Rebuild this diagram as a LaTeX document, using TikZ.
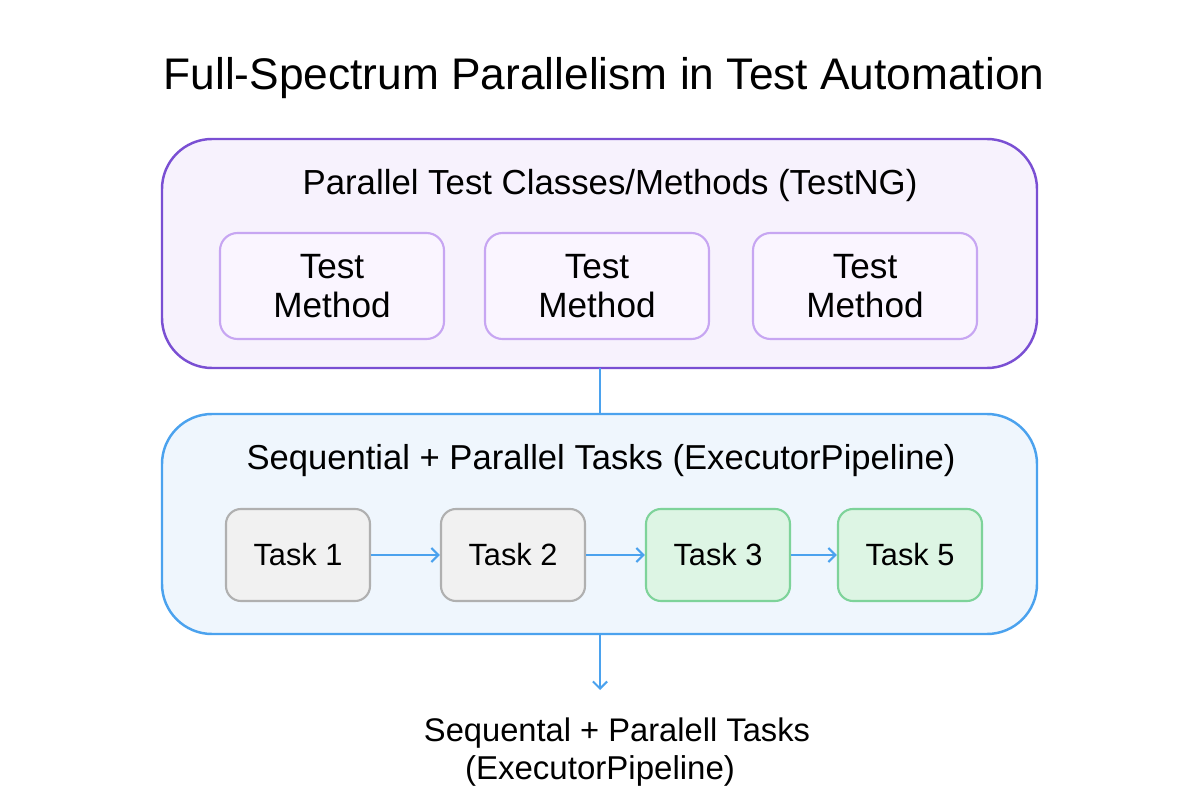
\documentclass[tikz,border=0pt]{standalone}
\usepackage{fontspec}
\setmainfont{Liberation Sans}
\usetikzlibrary{positioning,arrows.meta}

\definecolor{purpleline}{HTML}{7A4FD3}
\definecolor{purplefill}{HTML}{F7F2FD}
\definecolor{methodline}{HTML}{C7A6F2}
\definecolor{methodfill}{HTML}{FAF5FF}
\definecolor{blueline}{HTML}{4BA2EE}
\definecolor{bluefill}{HTML}{EFF6FD}
\definecolor{grayline}{HTML}{B0B0B0}
\definecolor{grayfill}{HTML}{F1F1F1}
\definecolor{greenline}{HTML}{7ED39A}
\definecolor{greenfill}{HTML}{DDF5E4}

\tikzset{
  group/.style={draw, line width=1.4pt, rounded corners=50*0.02cm},
  method/.style={draw=methodline, fill=methodfill, line width=1.2pt, rounded corners=0.35cm,
    minimum width=224*0.02cm, minimum height=106*0.02cm, align=center,
    font=\fontsize{20}{22}\selectfont},
  task/.style={draw, line width=1.2pt, rounded corners=0.3cm,
    minimum width=144*0.02cm, minimum height=92*0.02cm,
    font=\fontsize{17.5}{20}\selectfont},
  link/.style={draw=blueline, line width=1.2pt, -{Straight Barb[length=4pt,width=8pt]}}
}

\begin{document}
\begin{tikzpicture}[x=0.02cm, y=-0.02cm]

% canvas
	\useasboundingbox (0,0) rectangle (1200,800);

% title
	\node (title) at (604,78) {\fontsize{25.2}{28}\selectfont Full-Spectrum Parallelism in Test Automation};

% TestNG group
	\draw[group, draw=purpleline, fill=purplefill] (162,139) rectangle (1037,368);
	\node (testng) at (610,186) {\fontsize{19.8}{22}\selectfont Parallel Test Classes/Methods (TestNG)};
	\node[method] (m1) at (332,286) {Test\\Method};
	\node[method] (m2) at (597,286) {Test\\Method};
	\node[method] (m3) at (865,286) {Test\\Method};

% pipeline group
	\draw[group, draw=blueline, fill=bluefill] (162,414) rectangle (1037,634);
	\node (pipe) at (601,461) {\fontsize{19.7}{22}\selectfont Sequential + Parallel Tasks (ExecutorPipeline)};
	\coordinate (gtop) at (600,368);
	\coordinate (gmid) at (600,414);
	\draw[blueline, line width=1.2pt] (gtop) -- (gmid);

	\node[task, draw=grayline, fill=grayfill] (t1) at (298,555) {Task 1};
	\node[task, draw=grayline, fill=grayfill] (t2) at (513,555) {Task 2};
	\node[task, draw=greenline, fill=greenfill] (t3) at (718,555) {Task 3};
	\node[task, draw=greenline, fill=greenfill] (t5) at (910,555) {Task 5};
	\draw[link] (t1) -- (t2);
	\draw[link] (t2) -- (t3);
	\draw[link] (t3) -- (t5);

% output
	\coordinate (gbot) at (600,634);
	\coordinate (outtip) at (600,690);
	\draw[link] (gbot) -- (outtip);
	\node (out1) at (617,733) {\fontsize{18.6}{21}\selectfont Sequental + Paralell Tasks};
	\node (out2) at (600,771) {\fontsize{18.8}{21}\selectfont (ExecutorPipeline)};

\end{tikzpicture}
\end{document}
